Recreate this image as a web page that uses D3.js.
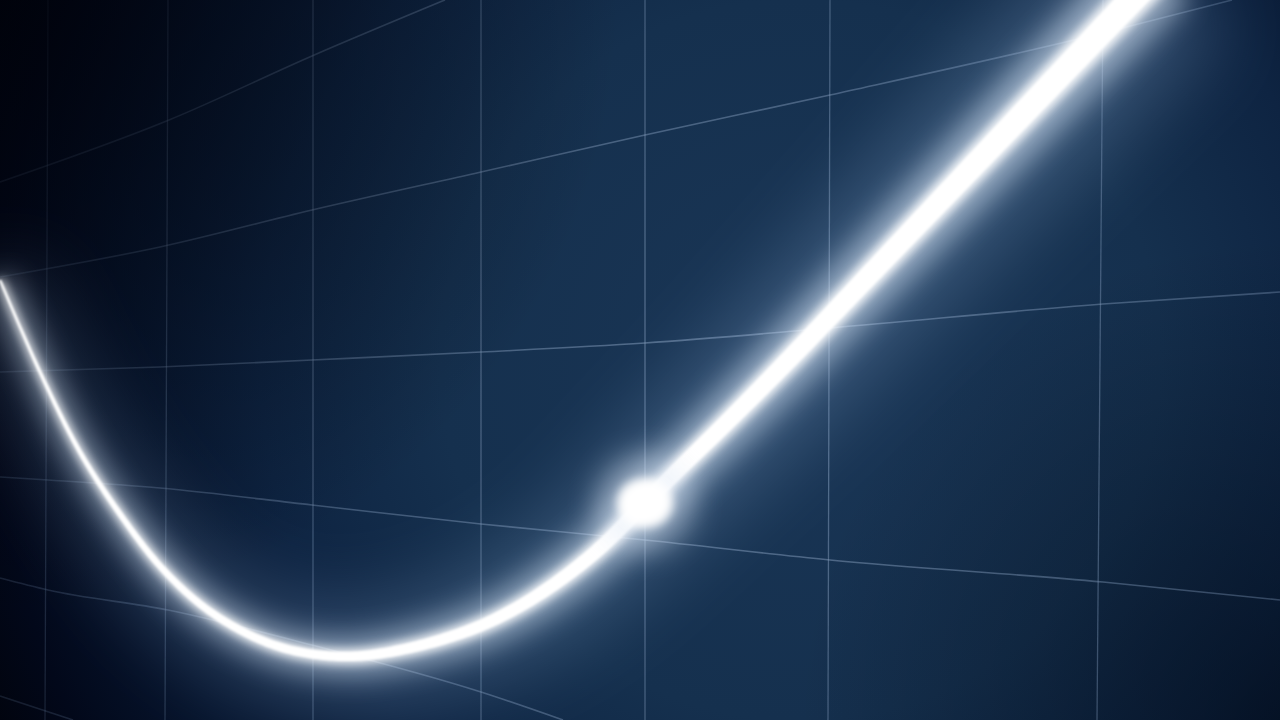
<!DOCTYPE html>
<html><head><meta charset="utf-8">
<script src="https://cdn.jsdelivr.net/npm/d3@7"></script>
<style>html,body{margin:0;padding:0;background:#020818;overflow:hidden}</style>
</head><body><svg id="c" width="1280" height="720"></svg>
<script>
// ---- data (scene units = picture units) ----
const curveX = [0,40,80,120,160,200,240,280,320,360,400,440,480,520,560,600,645,680,720,760,800,840,880,920,960,1000,1040,1080,1120,1160];
const curveY = [280,372,452,514,566,604,630,647,655,656,650,640,626,606,580,548,503,468,429,389,348,306,264,222,180,138,96,54,12,-30];
const gridColsTop    = [48,168,313,481,645,830,1103];
const gridColsBottom = [45,165,313,481,645,828,1097];
const row1X = [0,169,312,445],               row1Y = [182,120,56,0];
const row2X = [0,160,312,481,645,830,1103,1232], row2Y = [277,247,210,172,135,95,33,0];
const row3X = [0,160,312,481,645,830,1103,1280], row3Y = [372,367,360,352,343,328,304,292];
const row4X = [0,48,160,312,481,645,830,1103,1280], row4Y = [477,480,488,505,524,540,560,582,600];
const row5X = [0,48,168,312,481,563],        row5Y = [578,590,610,645,692,720];
const row6X = [0,73],                        row6Y = [696,720];
const flareX = [645], flareY = [503];

const W = 1280, H = 720;
const svg = d3.select("#c");
const x = d3.scaleLinear().domain([0,1280]).range([0,W]);
const y = d3.scaleLinear().domain([0,720]).range([0,H]);

const defs = svg.append("defs");
const rg = defs.append("radialGradient").attr("id","bg").attr("gradientUnits","userSpaceOnUse")
  .attr("cx",800).attr("cy",360).attr("r",900);
[[0,"#1a3656"],[0.4,"#15304e"],[0.6,"#0e2442"],[0.76,"#07162f"],[0.9,"#02081a"],[1,"#01030b"]].forEach(s=>
  rg.append("stop").attr("offset",s[0]).attr("stop-color",s[1]));
const vg = defs.append("radialGradient").attr("id","vig").attr("gradientUnits","userSpaceOnUse")
  .attr("cx",1280).attr("cy",720).attr("r",480);
[[0,"#000814",0.55],[1,"#000814",0]].forEach(s=>
  vg.append("stop").attr("offset",s[0]).attr("stop-color",s[1]).attr("stop-opacity",s[2]));
const vt = defs.append("radialGradient").attr("id","vigtl").attr("gradientUnits","userSpaceOnUse")
  .attr("cx",0).attr("cy",0).attr("r",620);
[[0,"#00020a",0.75],[0.5,"#00020a",0.4],[1,"#00020a",0]].forEach(s=>
  vt.append("stop").attr("offset",s[0]).attr("stop-color",s[1]).attr("stop-opacity",s[2]));
const gg = defs.append("radialGradient").attr("id","gridg").attr("gradientUnits","userSpaceOnUse")
  .attr("cx",760).attr("cy",380).attr("r",900);
[[0,"#8aa2c0",0.55],[0.6,"#7890b0",0.4],[1,"#5a7090",0.15]].forEach(s=>
  gg.append("stop").attr("offset",s[0]).attr("stop-color",s[1]).attr("stop-opacity",s[2]));
function blur(id, sd){
  defs.append("filter").attr("id",id).attr("filterUnits","userSpaceOnUse")
    .attr("x",-300).attr("y",-300).attr("width",1880).attr("height",1320)
    .append("feGaussianBlur").attr("stdDeviation",sd);
}
blur("b40",40); blur("b14",14); blur("b5",5); blur("b2",1.2); blur("b1",0.7);

svg.append("rect").attr("width",W).attr("height",H).attr("fill","url(#bg)");
svg.append("rect").attr("width",W).attr("height",H).attr("fill","url(#vig)");

// grid
const grid = svg.append("g").attr("stroke","url(#gridg)").attr("fill","none").attr("filter","url(#b1)");
grid.selectAll("line.v").data(gridColsTop).join("line")
  .attr("x1",d=>x(d)).attr("y1",y(0))
  .attr("x2",(d,i)=>x(gridColsBottom[i])).attr("y2",y(720))
  .attr("stroke-width",1.3);
const rowLine = d3.line().x(d=>x(d[0])).y(d=>y(d[1])).curve(d3.curveMonotoneX);
const rows = [[row1X,row1Y],[row2X,row2Y],[row3X,row3Y],[row4X,row4Y],[row5X,row5Y],[row6X,row6Y]]
  .map(r=>r[0].map((v,i)=>[v,r[1][i]]));
grid.selectAll("path.r").data(rows).join("path").attr("d",rowLine).attr("stroke-width",1.6);

svg.append("rect").attr("width",W).attr("height",H).attr("fill","url(#vigtl)");

// curve
const pts = curveX.map((v,i)=>[x(v),y(curveY[i])]);
const cl = d3.line().curve(d3.curveCatmullRom.alpha(0.5));
const hidden = svg.append("path").attr("d",cl(pts)).attr("fill","none").attr("stroke","none");
const node = hidden.node(), L = node.getTotalLength();
const N = 600, samp = d3.range(N+1).map(i=>{const p=node.getPointAtLength(L*i/N);return [p.x,p.y,i/N];});
function widthAt(f){ return 2.5 + 24*Math.pow(f,1.15); }
function ribbon(scale, add){
  const left=[], right=[];
  samp.forEach((p,i)=>{
    const a = samp[Math.max(0,i-2)], b = samp[Math.min(N,i+2)];
    let dx=b[0]-a[0], dy=b[1]-a[1]; const len=Math.hypot(dx,dy)||1; dx/=len; dy/=len;
    const w=(widthAt(p[2])*scale+add)/2;
    left.push([p[0]-dy*w, p[1]+dx*w]); right.push([p[0]+dy*w, p[1]-dx*w]);
  });
  return d3.line()(left.concat(right.reverse()))+"Z";
}
const glow = svg.append("g");
glow.append("path").attr("d",ribbon(5,40)).attr("fill","#8fb0d8").attr("opacity",0.3).attr("filter","url(#b40)");
glow.append("path").attr("d",ribbon(2.6,12)).attr("fill","#d5e4f5").attr("opacity",0.6).attr("filter","url(#b14)");
glow.append("path").attr("d",ribbon(1.3,3)).attr("fill","#ffffff").attr("opacity",0.9).attr("filter","url(#b5)");
glow.append("path").attr("d",ribbon(1,0)).attr("fill","#ffffff").attr("filter","url(#b2)");

// flare blob
const fl = svg.append("g");
fl.selectAll("circle.h").data(flareX).join("circle").attr("cx",d=>x(d)).attr("cy",(d,i)=>y(flareY[i]))
  .attr("r",50).attr("fill","#dbe7f6").attr("opacity",0.4).attr("filter","url(#b14)");
fl.selectAll("ellipse.b").data(flareX).join("ellipse").attr("cx",d=>x(d)).attr("cy",(d,i)=>y(flareY[i]))
  .attr("rx",28).attr("ry",25).attr("fill","#ffffff").attr("filter","url(#b5)");
</script></body></html>
